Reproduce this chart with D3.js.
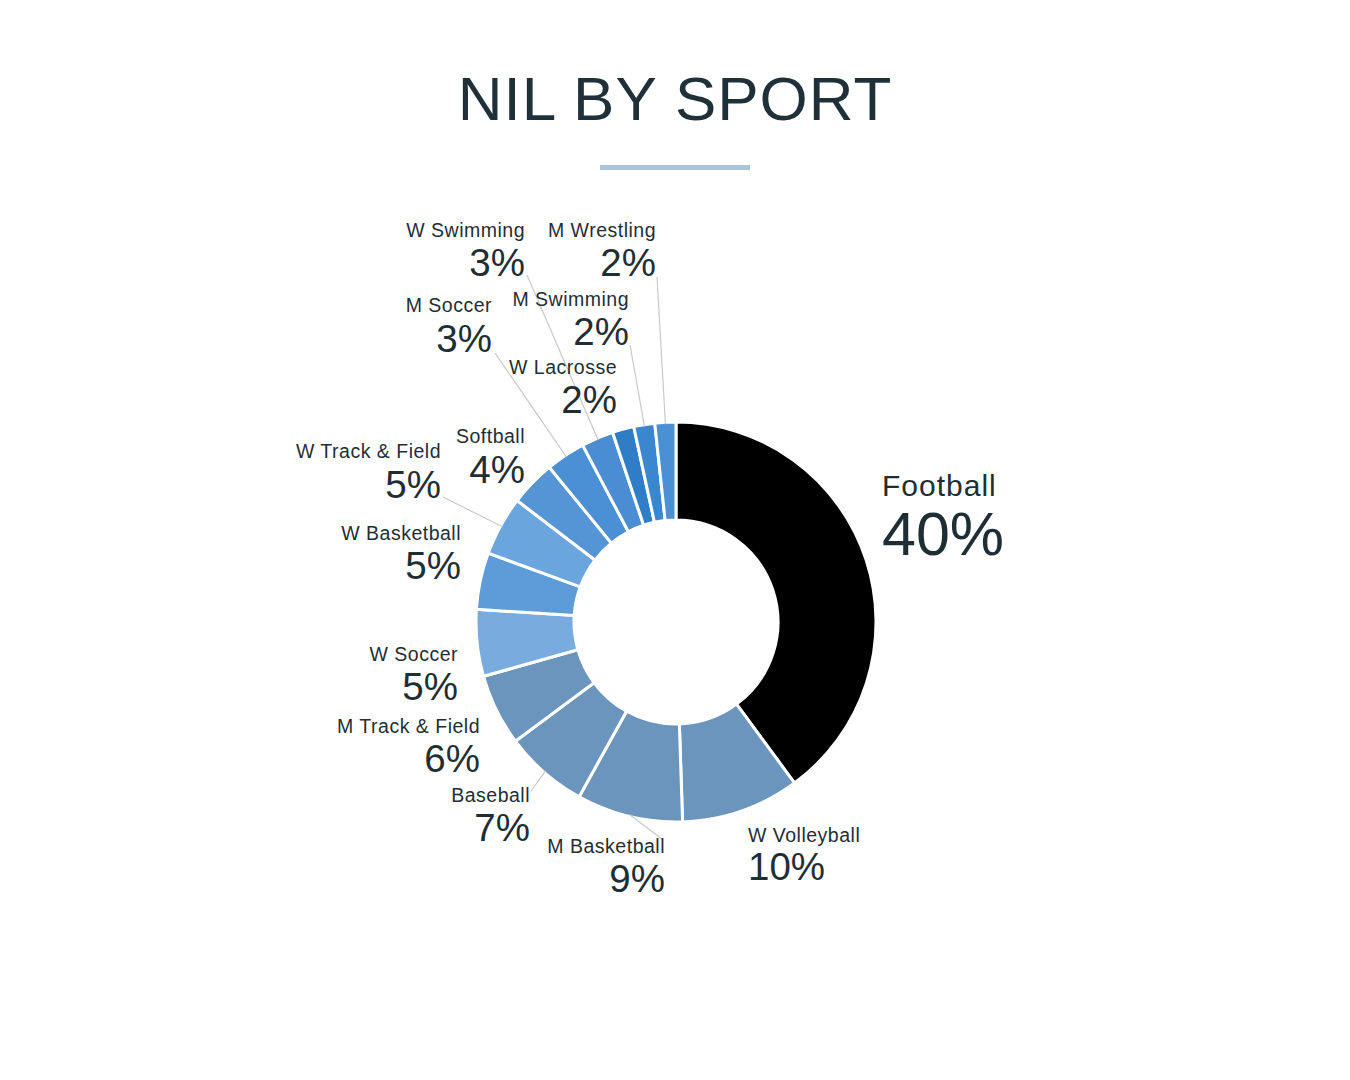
<!DOCTYPE html>
<html>
<head>
<meta charset="utf-8">
<script src="https://cdn.jsdelivr.net/npm/d3@7"></script>
<style>
  html, body { margin: 0; padding: 0; background: #ffffff; }
  svg { display: block; }
</style>
</head>
<body>
<svg id="chart" width="1350" height="1080"></svg>
<script>
// ---- data ----
const sports = ["Football", "W Volleyball", "M Basketball", "Baseball", "M Track & Field",
  "W Soccer", "W Basketball", "W Track & Field", "Softball", "M Soccer",
  "W Swimming", "W Lacrosse", "M Swimming", "M Wrestling"];
const shares = [40.0, 9.6, 8.6, 6.8, 5.8, 5.4, 4.6, 4.8, 3.7, 3.2, 2.6, 1.75, 1.7, 1.7];
const pctLabels = ["40%", "10%", "9%", "7%", "6%", "5%", "5%", "5%", "4%", "3%", "3%", "2%", "2%", "2%"];

// ---- styling / layout ----
const colors = ["#000000", "#6b95bd", "#6b95bd", "#6b95bd", "#6b95bd",
  "#79abde", "#5e9cd8", "#6aa5dd", "#5594d5", "#4b8fd4",
  "#4a8dd3", "#2f7cc7", "#3a87d0", "#4a90d5"];
// label anchor: x, name baseline, pct baseline, anchor, line end (or null)
const labelLayout = [
  {x: 882, ny: 496, py: 555, a: "start", big: true, line: null},
  {x: 748, ny: 842, py: 880, a: "start", line: null},
  {x: 665, ny: 853, py: 892, a: "end", line: [663, 840]},
  {x: 530, ny: 802, py: 841, a: "end", line: [531, 791]},
  {x: 480, ny: 733, py: 772, a: "end", line: null},
  {x: 458, ny: 661, py: 700, a: "end", line: null},
  {x: 461, ny: 540, py: 579, a: "end", line: null},
  {x: 441, ny: 458, py: 498, a: "end", line: [443, 497]},
  {x: 525, ny: 443, py: 483, a: "end", line: null},
  {x: 492, ny: 312, py: 352, a: "end", line: [495, 353]},
  {x: 525, ny: 237, py: 276, a: "end", line: [527, 275]},
  {x: 617, ny: 374, py: 413, a: "end", line: null},
  {x: 629, ny: 306, py: 345, a: "end", line: [630, 345]},
  {x: 656, ny: 237, py: 276, a: "end", line: [657, 277]}
];

const svg = d3.select("#chart");
const cx = 676, cy = 622, rOuter = 200, rInner = 102;
const font = "'Liberation Sans', Arial, Helvetica, sans-serif";
const textColor = "#1f2e35";

// title
svg.append("text")
  .attr("x", 675).attr("y", 120)
  .attr("text-anchor", "middle")
  .attr("font-family", font)
  .attr("font-size", 62)
  .attr("letter-spacing", 1)
  .attr("fill", "#1f3038")
  .text("NIL BY SPORT");
svg.append("rect")
  .attr("x", 600).attr("y", 165).attr("width", 150).attr("height", 5)
  .attr("fill", "#a8c5dd");

const data = sports.map((s, i) => ({sport: s, value: shares[i], pct: pctLabels[i], color: colors[i], lay: labelLayout[i]}));

const pie = d3.pie().value(d => d.value).sort(null).startAngle(0).endAngle(2 * Math.PI);
const arcs = pie(data);
const arc = d3.arc().innerRadius(rInner).outerRadius(rOuter);

const g = svg.append("g").attr("transform", `translate(${cx},${cy})`);

// leader lines (drawn under the slices)
const lineG = svg.append("g");
arcs.forEach(a => {
  const L = a.data.lay;
  if (!L.line) return;
  const mid = (a.startAngle + a.endAngle) / 2;
  const px = cx + (rOuter - 2) * Math.sin(mid);
  const py = cy - (rOuter - 2) * Math.cos(mid);
  lineG.append("line")
    .attr("x1", px).attr("y1", py)
    .attr("x2", L.line[0]).attr("y2", L.line[1])
    .attr("stroke", "#c9c9c9").attr("stroke-width", 1.2);
});

g.selectAll("path")
  .data(arcs)
  .join("path")
  .attr("d", arc)
  .attr("fill", d => d.data.color)
  .attr("stroke", "#ffffff")
  .attr("stroke-width", 3)
  .attr("stroke-linejoin", "miter");

// labels
const lab = svg.append("g");
arcs.forEach(a => {
  const L = a.data.lay;
  lab.append("text")
    .attr("x", L.x).attr("y", L.ny)
    .attr("text-anchor", L.a)
    .attr("font-family", font)
    .attr("font-size", L.big ? 30 : 19.5)
    .attr("letter-spacing", L.big ? 1 : 0.5)
    .attr("fill", textColor)
    .text(a.data.sport);
  lab.append("text")
    .attr("x", L.x).attr("y", L.py)
    .attr("text-anchor", L.a)
    .attr("font-family", font)
    .attr("font-size", L.big ? 61 : 38.5)
    .attr("fill", textColor)
    .text(a.data.pct);
});
</script>
</body>
</html>
